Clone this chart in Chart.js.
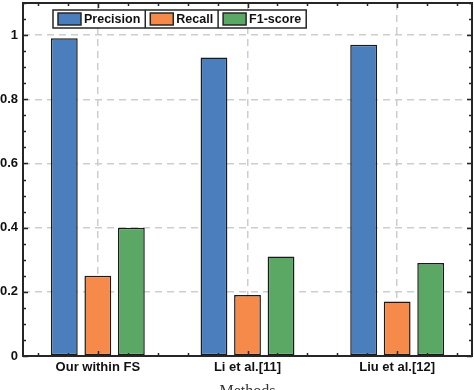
<!DOCTYPE html>
<html>
<head>
<meta charset="utf-8">
<script src="https://cdn.jsdelivr.net/npm/chart.js@4"></script>
<style>
  html, body { margin: 0; padding: 0; background: #fff; }
  #wrap { width: 474px; height: 390px; }
</style>
</head>
<body>
<div id="wrap"><canvas id="methodsChart" width="474" height="390"></canvas></div>
<script>
// data
const methods = ['Our within FS', 'Li et al.[11]', 'Liu et al.[12]'];
const precision = [0.99, 0.93, 0.97];
const recall = [0.25, 0.19, 0.17];
const f1score = [0.40, 0.31, 0.29];
const yTicks = [0, 0.2, 0.4, 0.6, 0.8, 1];

const axisColor = '#262626';

// box around the plot with inward ticks (major + minor), like a matlab axes
const frameBox = {
    id: 'frameBox',
    afterDatasetsDraw(chart) {
        const { ctx, chartArea: a, scales } = chart;
        const x = scales.x, y = scales.y;
        ctx.save();
        ctx.strokeStyle = axisColor;
        ctx.lineWidth = 1.5;
        ctx.beginPath();
        // y ticks every 0.05, longer at labelled ones
        for (let v = 0; v <= 1.1001; v += 0.05) {
            const py = Math.round(y.getPixelForValue(v)) + 0.5;
            const major = Math.abs(v / 0.2 - Math.round(v / 0.2)) < 1e-6;
            const len = major ? 5 : 3;
            ctx.moveTo(a.left, py); ctx.lineTo(a.left + len, py);
            ctx.moveTo(a.right, py); ctx.lineTo(a.right - len, py);
        }
        // x ticks: category centres and minor steps of 0.2
        for (let i = 0; i < methods.length; i++) {
            for (let k = -2; k <= 2; k++) {
                const px = Math.round(x.getPixelForValue(i + k * 0.2)) + 0.5;
                const len = k === 0 ? 5 : 3;
                ctx.moveTo(px, a.bottom); ctx.lineTo(px, a.bottom - len);
                ctx.moveTo(px, a.top); ctx.lineTo(px, a.top + len);
            }
        }
        ctx.stroke();
        ctx.lineWidth = 2;
        ctx.strokeRect(a.left, a.top, a.right - a.left, a.bottom - a.top);
        ctx.restore();
    }
};

// horizontal legend inside the plot, boxed with separators
const boxLegend = {
    id: 'boxLegend',
    afterDraw(chart) {
        const { ctx, chartArea: a } = chart;
        const sets = chart.data.datasets;
        const left = a.left + 30, top = a.top + 7, h = 18;
        ctx.save();
        ctx.font = 'bold 12.5px "Liberation Sans", Arial, sans-serif';
        ctx.textBaseline = 'middle';
        let cx = left;
        const items = sets.map(ds => {
            const w = 5 + 23 + 3 + ctx.measureText(ds.label).width + 5;
            const it = { ds, x: cx, w };
            cx += w;
            return it;
        });
        ctx.fillStyle = '#fff';
        ctx.fillRect(left, top, cx - left, h);
        items.forEach((it, i) => {
            ctx.fillStyle = it.ds.backgroundColor;
            ctx.fillRect(it.x + 5, top + 3, 23, 12);
            ctx.strokeStyle = axisColor;
            ctx.lineWidth = 1.5;
            ctx.strokeRect(it.x + 5, top + 3, 23, 12);
            ctx.fillStyle = '#111';
            ctx.fillText(it.ds.label, it.x + 31, top + h / 2 + 1);
            if (i > 0) {
                ctx.beginPath();
                ctx.moveTo(it.x, top); ctx.lineTo(it.x, top + h);
                ctx.stroke();
            }
        });
        ctx.lineWidth = 1.5;
        ctx.strokeStyle = axisColor;
        ctx.strokeRect(left, top, cx - left, h);
        ctx.restore();
    }
};

const ctx = document.getElementById('methodsChart').getContext('2d');
new Chart(ctx, {
    type: 'bar',
    data: {
        labels: methods,
        datasets: [
            { label: 'Precision', data: precision, backgroundColor: '#4a7ebc' },
            { label: 'Recall', data: recall, backgroundColor: '#f58a4b' },
            { label: 'F1-score', data: f1score, backgroundColor: '#5aa864' }
        ].map(ds => Object.assign(ds, {
            borderColor: '#1a1a1a',
            borderWidth: 1.5,
            borderSkipped: false,
            categoryPercentage: 0.672,
            barPercentage: 0.8
        }))
    },
    options: {
        responsive: false,
        animation: false,
        devicePixelRatio: 1,
        layout: { padding: { top: 3, right: 2, left: 0, bottom: 0 } },
        plugins: {
            legend: { display: false },
            tooltip: { enabled: false }
        },
        scales: {
            x: {
                offset: true,
                grid: {
                    offset: false,
                    color: '#cdcdcd',
                    lineWidth: 1.5,
                    drawTicks: false
                },
                border: { display: false, dash: [7, 5] },
                ticks: {
                    padding: 4,
                    color: '#111',
                    font: { family: '"Liberation Sans", Arial, sans-serif', size: 13, weight: 'bold' }
                },
                title: {
                    display: true,
                    text: 'Methods',
                    color: '#333',
                    padding: { top: 0, bottom: -11 },
                    font: { family: '"Liberation Serif", "Times New Roman", serif', size: 16 }
                },
                afterFit(scale) {
                    scale.height = 34;
                    scale.paddingLeft = 0;
                    scale.paddingRight = 0;
                }
            },
            y: {
                min: 0,
                max: 1.1,
                afterBuildTicks(scale) { scale.ticks = yTicks.map(v => ({ value: v })); },
                grid: {
                    color: '#cdcdcd',
                    lineWidth: 1.5,
                    drawTicks: false
                },
                border: { display: false, dash: [7, 5] },
                ticks: {
                    padding: 5,
                    color: '#111',
                    font: { family: '"Liberation Sans", Arial, sans-serif', size: 13, weight: 'bold' },
                    callback: v => String(+v.toFixed(1))
                },
                afterFit(scale) {
                    scale.width = 23;
                    scale.paddingTop = 0;
                    scale.paddingBottom = 0;
                }
            }
        }
    },
    plugins: [frameBox, boxLegend]
});
</script>
</body>
</html>
